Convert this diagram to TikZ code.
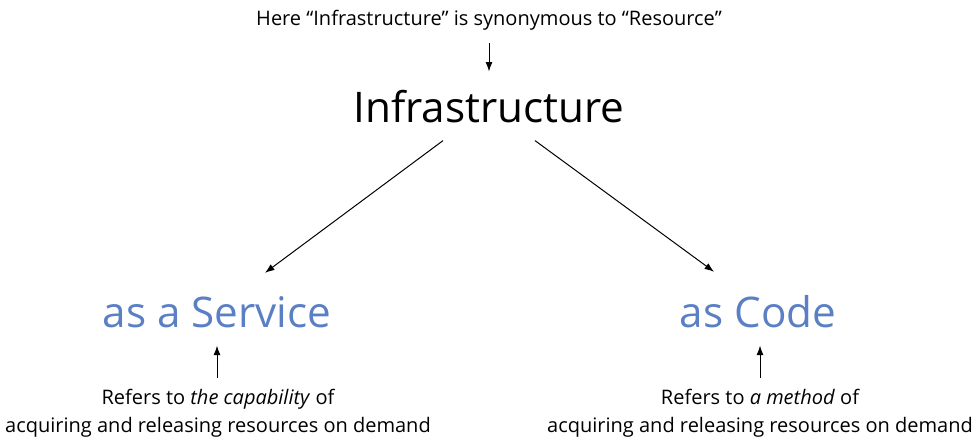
\documentclass[tikz,border=0pt]{standalone}
\usepackage{fontspec}
\setmainfont{Open Sans}
\usetikzlibrary{arrows.meta}
\definecolor{svcblue}{HTML}{5B7FC5}
\begin{document}
\begin{tikzpicture}[x=1pt,y=-1pt,
  small/.style={inner sep=0pt,font=\fontsize{20}{28}\selectfont,align=center},
  big/.style={inner sep=0pt,font=\fontsize{42.2}{50}\selectfont,anchor=base},
  arr/.style={line width=1pt,-{Latex[length=9.5pt,width=7pt]}}]
\useasboundingbox (0,0) rectangle (979,443);
\node[small,anchor=base] (note) at (489,26) {Here “Infrastructure” is synonymous to “Resource”};
\node[big] (infra) at (489,123) {Infrastructure};
\node[big,text=svcblue] (svc) at (217,327) {as a Service};
\node[big,text=svcblue] (code) at (758,327) {as Code};
\node[small] (ref1) at (218,413) {Refers to \emph{the capability} of\\acquiring and releasing resources on demand};
\node[small] (ref2) at (760,413) {Refers to \emph{a method} of\\acquiring and releasing resources on demand};
\draw[arr] ([shift={(0,12)}]note.south) -- ([shift={(0,-19)}]infra.north);
\draw[arr] ([shift={(-46,17)}]infra.south) -- ([shift={(48,-23)}]svc.north);
\draw[arr] ([shift={(46,17)}]infra.south) -- ([shift={(-44,-23)}]code.north);
\draw[arr] ([shift={(-1,-11)}]ref1.north) -- ([shift={(0,18)}]svc.south);
\draw[arr] ([shift={(0,-11)}]ref2.north) -- ([shift={(2,18)}]code.south);
\end{tikzpicture}
\end{document}
